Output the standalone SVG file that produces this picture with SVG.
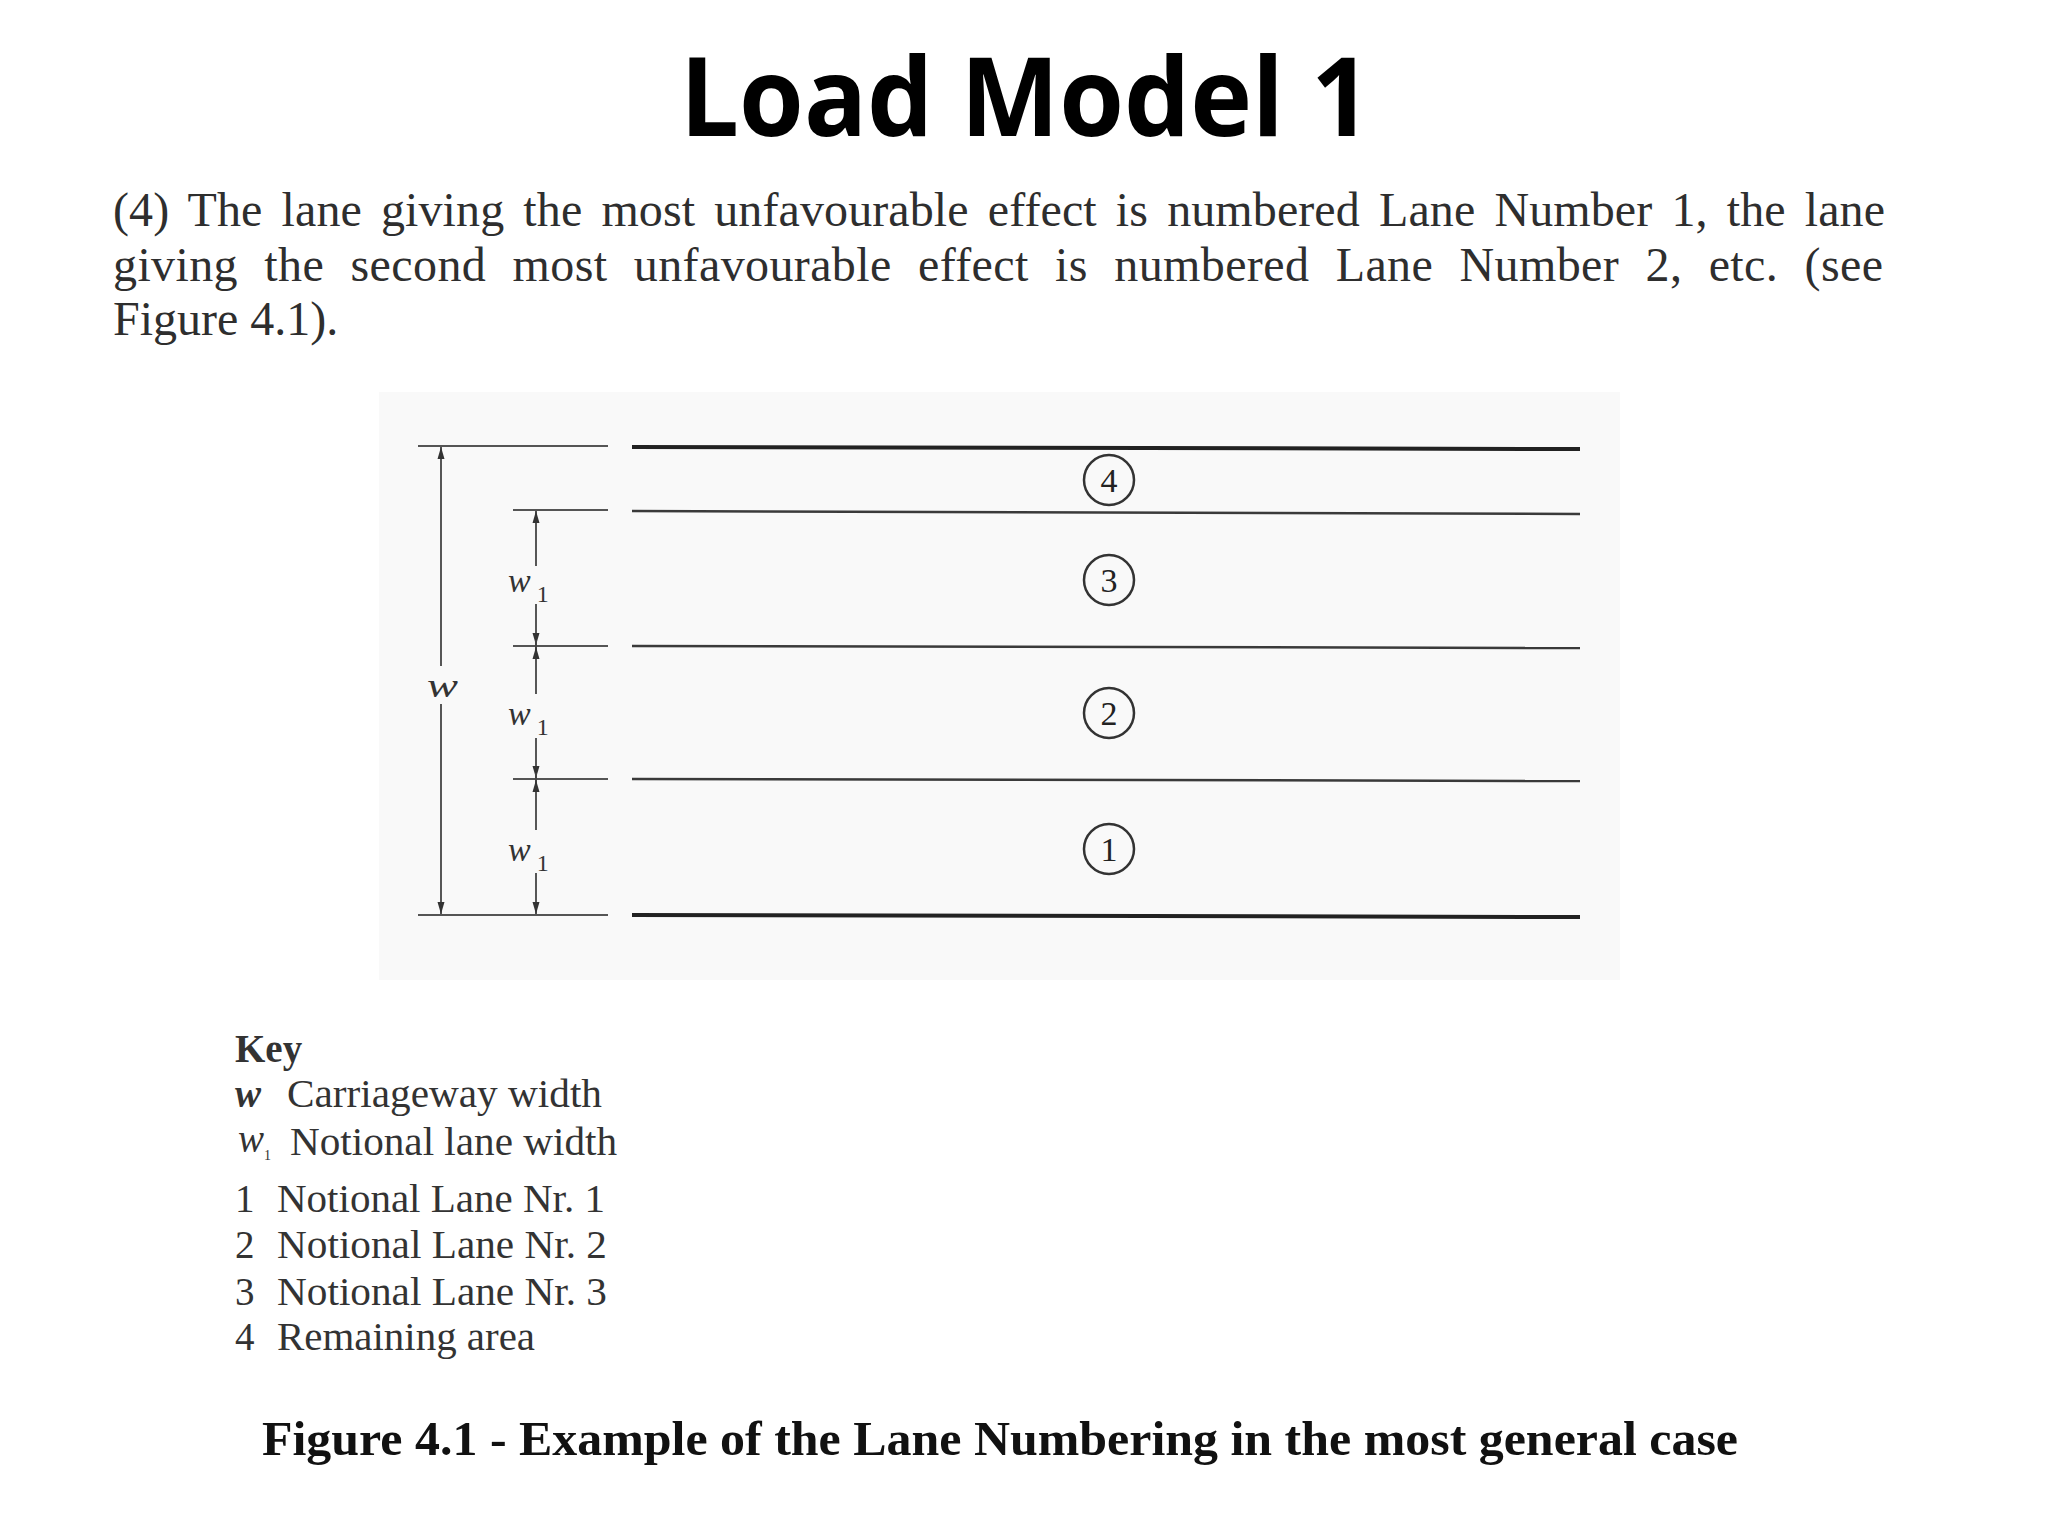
<svg xmlns="http://www.w3.org/2000/svg" width="2048" height="1536" viewBox="0 0 2048 1536">
  <defs>
    <marker id="arr" viewBox="0 0 12 8" refX="12" refY="4" markerWidth="12" markerHeight="8" markerUnits="userSpaceOnUse" orient="auto">
      <path d="M0,0.5 L12,4 L0,7.5 z" fill="#333"/>
    </marker>
    <style>
      .title { font-family: "Open Sans", "Liberation Sans", sans-serif; font-weight: bold; font-size: 110px; fill: #000; }
      .para { font-family: "Liberation Serif", "DejaVu Serif", serif; font-size: 48px; fill: #2e2e2e; }
      .key { font-family: "Liberation Serif", "DejaVu Serif", serif; font-size: 39px; fill: #333; }
      .cap { font-family: "Liberation Serif", "DejaVu Serif", serif; font-weight: bold; font-size: 48px; fill: #111; }
      .dimlbl { font-family: "Liberation Serif", "DejaVu Serif", serif; font-style: italic; font-size: 34px; fill: #333; }
      .sub { font-style: normal; font-size: 24px; }
      .num { font-family: "Liberation Serif", "DejaVu Serif", serif; font-size: 34px; fill: #222; text-anchor: middle; }
      .road { stroke: #3a3a3a; stroke-width: 2.5; fill: none; }
      .roadEdge { stroke: #222; stroke-width: 4; fill: none; }
      .ext { stroke: #555; stroke-width: 2; fill: none; }
      .dim { stroke: #444; stroke-width: 1.8; fill: none; }
      .lane circle { fill: none; stroke: #333; stroke-width: 2.5; }
    </style>
  </defs>
  <rect width="2048" height="1536" fill="#ffffff"/>

  <g id="title">
    <text class="title" x="680" y="136" textLength="691" lengthAdjust="spacingAndGlyphs">Load Model 1</text>
  </g>

  <g id="paragraph">
    <text class="para" x="113" y="226" word-spacing="7" textLength="1772" lengthAdjust="spacing">(4) The lane giving the most unfavourable effect is numbered Lane Number 1, the lane</text>
    <text class="para" x="113" y="281" word-spacing="14" textLength="1770" lengthAdjust="spacing">giving the second most unfavourable effect is numbered Lane Number 2, etc. (see</text>
    <text class="para" x="113" y="335">Figure 4.1).</text>
  </g>

  <g id="figure">
    <rect x="379" y="392" width="1241" height="588" fill="#f9f9f9"/>
    <g id="road-lines">
      <line class="roadEdge" x1="632" y1="447" x2="1580" y2="449"/>
      <line class="road" x1="632" y1="511" x2="1580" y2="514"/>
      <line class="road" x1="632" y1="646" x2="1580" y2="648"/>
      <line class="road" x1="632" y1="779" x2="1580" y2="781"/>
      <line class="roadEdge" x1="632" y1="915" x2="1580" y2="917"/>
    </g>
    <g id="extension-lines">
      <line class="ext" x1="418" y1="446" x2="608" y2="446"/>
      <line class="ext" x1="513" y1="510" x2="608" y2="510"/>
      <line class="ext" x1="513" y1="646" x2="608" y2="646"/>
      <line class="ext" x1="513" y1="779" x2="608" y2="779"/>
      <line class="ext" x1="418" y1="915" x2="608" y2="915"/>
    </g>
    <g id="connectors">
      <line class="dim" x1="441" y1="666" x2="441" y2="447" marker-end="url(#arr)"/>
      <line class="dim" x1="441" y1="704" x2="441" y2="914" marker-end="url(#arr)"/>
      <line class="dim" x1="536" y1="566" x2="536" y2="511" marker-end="url(#arr)"/>
      <line class="dim" x1="536" y1="604" x2="536" y2="645" marker-end="url(#arr)"/>
      <line class="dim" x1="536" y1="640" x2="536" y2="652"/>
      <line class="dim" x1="536" y1="694" x2="536" y2="647" marker-end="url(#arr)"/>
      <line class="dim" x1="536" y1="738" x2="536" y2="778" marker-end="url(#arr)"/>
      <line class="dim" x1="536" y1="773" x2="536" y2="785"/>
      <line class="dim" x1="536" y1="830" x2="536" y2="780" marker-end="url(#arr)"/>
      <line class="dim" x1="536" y1="873" x2="536" y2="914" marker-end="url(#arr)"/>
    </g>
    <g id="dim-labels">
      <text class="dimlbl" x="427" y="697" font-size="36" textLength="31" lengthAdjust="spacingAndGlyphs">w</text>
      <text class="dimlbl" x="508" y="592">w<tspan class="sub" dx="6" dy="10">1</tspan></text>
      <text class="dimlbl" x="508" y="725">w<tspan class="sub" dx="6" dy="10">1</tspan></text>
      <text class="dimlbl" x="508" y="861">w<tspan class="sub" dx="6" dy="10">1</tspan></text>
    </g>
    <g id="lane-4" class="lane"><circle cx="1109" cy="480" r="25"/><text class="num" x="1109" y="492">4</text></g>
    <g id="lane-3" class="lane"><circle cx="1109" cy="580" r="25"/><text class="num" x="1109" y="592">3</text></g>
    <g id="lane-2" class="lane"><circle cx="1109" cy="713" r="25"/><text class="num" x="1109" y="725">2</text></g>
    <g id="lane-1" class="lane"><circle cx="1109" cy="849" r="25"/><text class="num" x="1109" y="861">1</text></g>
  </g>

  <g id="key">
    <text class="key" x="235" y="1062" font-weight="bold" fill="#222">Key</text>
    <text class="key" x="235" y="1107" font-weight="bold" font-style="italic" font-size="34">w</text>
    <text class="key" x="287" y="1107" textLength="315" lengthAdjust="spacingAndGlyphs">Carriageway width</text>
    <text class="key" x="238" y="1152" font-style="italic" font-size="28">w<tspan font-style="normal" font-size="14" dy="8">1</tspan></text>
    <text class="key" x="290" y="1155" textLength="327" lengthAdjust="spacingAndGlyphs">Notional lane width</text>
    <text class="key" x="235" y="1212">1</text>
    <text class="key" x="277" y="1212" textLength="328" lengthAdjust="spacingAndGlyphs">Notional Lane Nr. 1</text>
    <text class="key" x="235" y="1258">2</text>
    <text class="key" x="277" y="1258" textLength="330" lengthAdjust="spacingAndGlyphs">Notional Lane Nr. 2</text>
    <text class="key" x="235" y="1305">3</text>
    <text class="key" x="277" y="1305" textLength="330" lengthAdjust="spacingAndGlyphs">Notional Lane Nr. 3</text>
    <text class="key" x="235" y="1350">4</text>
    <text class="key" x="277" y="1350" textLength="258" lengthAdjust="spacingAndGlyphs">Remaining area</text>
  </g>

  <g id="caption">
    <text class="cap" x="262" y="1455" textLength="1476" lengthAdjust="spacingAndGlyphs">Figure 4.1 - Example of the Lane Numbering in the most general case</text>
  </g>
</svg>
